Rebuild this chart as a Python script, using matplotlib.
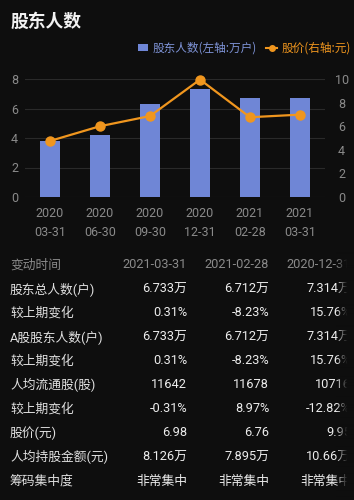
import numpy as np
import matplotlib.pyplot as plt
from matplotlib.lines import Line2D
from matplotlib.patches import Patch

BG = '#0e0e0e'
BLUE = '#6f86d6'
ORANGE = '#f0961e'
GRID = '#2a2a2a'
TICK = '#8a8a8a'

dates = ['2020\n03-31', '2020\n06-30', '2020\n09-30', '2020\n12-31', '2021\n02-28', '2021\n03-31']
holders = [3.81, 4.19, 6.30, 7.314, 6.712, 6.733]   # 万户
price = [4.75, 6.00, 6.86, 9.95, 6.76, 6.98]        # 元

header = ['变动时间', '2021-03-31', '2021-02-28', '2020-12-31']
row_labels = ['股东总人数(户)', '较上期变化', 'A股股东人数(户)', '较上期变化',
              '人均流通股(股)', '较上期变化', '股价(元)', '人均持股金额(元)', '筹码集中度']
col1 = ['6.733万', '0.31%', '6.733万', '0.31%', '11642', '-0.31%', '6.98', '8.126万', '非常集中']
col2 = ['6.712万', '-8.23%', '6.712万', '-8.23%', '11678', '8.97%', '6.76', '7.895万', '非常集中']
col3 = ['7.314万', '15.76%', '7.314万', '15.76%', '10716', '-12.82%', '9.95', '10.66万', '非常集中']

plt.rcParams['font.family'] = ['Roboto', 'Noto Sans CJK SC', 'DejaVu Sans']

W, H = 354, 500
fig = plt.figure(figsize=(W / 100, H / 100), dpi=100, facecolor=BG)


def fx(px):
    return px / W


def fy(py):
    return 1 - py / H


# title
fig.text(fx(11), fy(22), '股东人数', fontsize=12.8, fontweight='bold', color='#f2f2f2',
         family=['Noto Sans CJK SC'], va='center', ha='left')

# chart
ax = fig.add_axes([fx(25), fy(197), fx(300), fy(79) - fy(197)], facecolor=BG)
x = np.arange(len(dates))
ax.bar(x, holders, width=0.4, color=BLUE, zorder=2)
ax.set_xlim(-0.5, len(dates) - 0.5)
ax.set_ylim(0, 8)
ax.set_yticks([0, 2, 4, 6, 8])
ax.grid(axis='y', color=GRID, linewidth=0.8, zorder=0)
ax.set_xticks(x)
ax.set_xticklabels(dates, linespacing=1.6)
ax.tick_params(axis='x', length=0, pad=7, labelsize=9, labelcolor=TICK)
ax.tick_params(axis='y', length=0, pad=5, labelsize=9, labelcolor=TICK)
for s in ax.spines.values():
    s.set_visible(False)

ax2 = ax.twinx()
ax2.plot(x, price, color=ORANGE, linewidth=1.6, marker='o', markersize=6.5,
         clip_on=False, zorder=3)
ax2.set_ylim(0, 10)
ax2.set_yticks([0, 2, 4, 6, 8, 10])
ax2.tick_params(axis='y', length=0, pad=12, labelsize=9, labelcolor=TICK)
for lab in ax2.get_yticklabels():
    lab.set_ha('center')
for s in ax2.spines.values():
    s.set_visible(False)

# legend
handles = [Patch(facecolor=BLUE, edgecolor='none'),
           Line2D([0], [0], color=ORANGE, linewidth=1.5, marker='o', markersize=4)]
leg = fig.legend(handles, ['股东人数(左轴:万户)', '股价(右轴:元)'], ncol=2,
                 loc='center right', bbox_to_anchor=(fx(351), fy(48)), frameon=False,
                 fontsize=8.4, handlelength=0.9, handleheight=0.6, handletextpad=0.4,
                 columnspacing=0.8, borderaxespad=0, borderpad=0)
for t, c in zip(leg.get_texts(), ['#7f94d8', ORANGE]):
    t.set_color(c)
    t.set_family(['Noto Sans CJK SC'])

# table
row_y = [265 + 24 * i for i in range(len(row_labels) + 1)]
col_x = [187, 269, 351]
fig.text(fx(10), fy(row_y[0]), header[0], fontsize=9.2, color=TICK, va='center', ha='left')
for cx, h in zip(col_x, header[1:]):
    fig.text(fx(cx), fy(row_y[0]), h, fontsize=9.2, color=TICK, va='center', ha='right')
for i, lab in enumerate(row_labels):
    yy = fy(row_y[i + 1])
    fig.text(fx(10), yy, lab, fontsize=9.2, color='#e0e0e0', va='center', ha='left')
    for cx, col in zip(col_x, [col1, col2, col3]):
        fig.text(fx(cx), yy, col[i], fontsize=9.2, color='#ececec', va='center', ha='right')

# fade at the right edge of the table (the column runs off screen)
fade = fig.add_axes([fx(336), 0, fx(18), fy(252)], zorder=10)
grad = np.ones((1, 36, 4))
grad[..., :3] = np.array([14, 14, 14]) / 255
grad[..., 3] = np.clip(np.linspace(0, 1.6, 36), 0, 1)
fade.imshow(grad, aspect='auto', extent=[0, 1, 0, 1])
fade.set_axis_off()

fig.savefig('out.png', dpi=100, facecolor=BG)
